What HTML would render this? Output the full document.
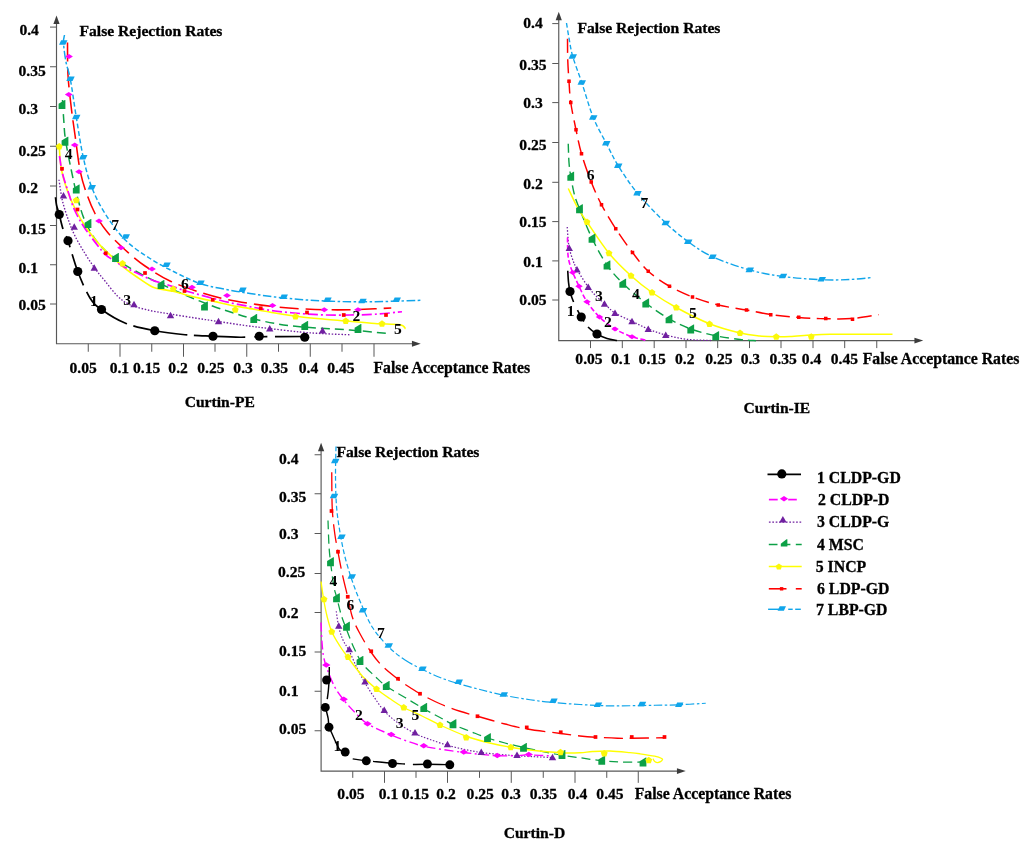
<!DOCTYPE html>
<html lang="en">
<head>
<meta charset="utf-8">
<title>ROC curves</title>
<style>
html,body{margin:0;padding:0;background:#fff}
svg{display:block}
</style>
</head>
<body>
<svg width="1024" height="852" viewBox="0 0 1024 852" font-family="'Liberation Serif', 'Times New Roman', serif" font-weight="bold" font-size="15.6" fill="#000">
<style>text{stroke:#000;stroke-width:0.3px;paint-order:stroke}.n text{stroke:none}</style>
<rect width="1024" height="852" fill="#fff"/>
<g id="chart-pe">
<path d="M56.5 344.3V21.5M55.95 343.75H414.75" stroke="#585858" stroke-width="1.15" fill="none"/>
<polygon points="56.5,15.5 53.4,24.1 59.6,24.1" fill="#3c3c3c"/>
<polygon points="420.75,343.75 411.95,340.85 411.95,346.65" fill="#3c3c3c"/>
<path d="M50 27.1H56.5M50 66.75H56.5M50 106.5H56.5M50 146.25H56.5M50 186H56.5M50 225.5H56.5M50 264.75H56.5M50 304H56.5M88.25 343.75V351.75M120 343.75V356.75M151.75 343.75V351.75M183.5 343.75V356.75M215 343.75V351.75M246.75 343.75V356.75M278.5 343.75V351.75M310.25 343.75V356.75M342 343.75V351.75M374 343.75V356.75" stroke="#585858" stroke-width="1" fill="none"/>
<text x="19.4" y="35">0.4</text>
<text x="18.5" y="76.25">0.35</text>
<text x="18.5" y="114.25">0.3</text>
<text x="18.5" y="155.6">0.25</text>
<text x="18.5" y="193.25">0.2</text>
<text x="18.5" y="234">0.15</text>
<text x="18.5" y="272.75">0.1</text>
<text x="18.5" y="310.25">0.05</text>
<text x="83.1" y="373" text-anchor="middle">0.05</text>
<text x="119.4" y="373" text-anchor="middle">0.1</text>
<text x="146.6" y="373" text-anchor="middle">0.15</text>
<text x="178.1" y="373" text-anchor="middle">0.2</text>
<text x="210.9" y="373" text-anchor="middle">0.25</text>
<text x="243.1" y="373" text-anchor="middle">0.3</text>
<text x="274.4" y="373" text-anchor="middle">0.35</text>
<text x="308.5" y="373" text-anchor="middle">0.4</text>
<text x="340.9" y="373" text-anchor="middle">0.45</text>
<text x="373.5" y="372.5" font-size="15.75">False Acceptance Rates</text>
<text x="79.5" y="36.4">False Rejection Rates</text>
<text x="219.75" y="406.75" text-anchor="middle">Curtin-PE</text>
<path d="M59 179.75C59.58 183.29 60.88 194.12 62.5 201C64.12 207.88 66.67 215.17 68.75 221C70.83 226.83 72.29 230.58 75 236C77.71 241.42 81.67 248.08 85 253.5C88.33 258.92 91.67 263.92 95 268.5C98.33 273.08 101.25 276.42 105 281C108.75 285.58 113.33 292.04 117.5 296C121.67 299.96 124.58 302.33 130 304.75C135.42 307.17 143.33 308.96 150 310.5C156.67 312.04 162.5 312.75 170 314C177.5 315.25 186.96 316.75 195 318C203.04 319.25 209.92 320.25 218.25 321.5C226.58 322.75 236.46 324.33 245 325.5C253.54 326.67 260.33 327.42 269.5 328.5C278.67 329.58 290.75 331.12 300 332C309.25 332.88 316.67 333.29 325 333.75C333.33 334.21 345.83 334.58 350 334.75" fill="none" stroke="#7020A0" stroke-width="1.35" stroke-dasharray="1.5 1.7"/>
<path d="M62.5 100C62.71 103.33 63.25 113.33 63.75 120C64.25 126.67 64.25 131.67 65.5 140C66.75 148.33 69.25 160.42 71.25 170C73.25 179.58 75.21 189 77.5 197.5C79.79 206 81.67 213.54 85 221C88.33 228.46 92.5 236 97.5 242.25C102.5 248.5 107.92 253.29 115 258.5C122.08 263.71 132.08 269.12 140 273.5C147.92 277.88 154.58 281 162.5 284.75C170.42 288.5 179.17 292.46 187.5 296C195.83 299.54 205.08 303.25 212.5 306C219.92 308.75 225.75 310.5 232 312.5C238.25 314.5 242.83 316.17 250 318C257.17 319.83 266.67 322.04 275 323.5C283.33 324.96 291.67 325.92 300 326.75C308.33 327.58 316.67 327.96 325 328.5C333.33 329.04 341.67 329.38 350 330C358.33 330.62 368.33 331.67 375 332.25C381.67 332.83 387.5 333.29 390 333.5" fill="none" stroke="#0CA046" stroke-width="1.5" stroke-dasharray="9 5"/>
<path d="M59.25 146.5C59.58 150.17 59.88 161.08 61.25 168.5C62.62 175.92 65.21 184.33 67.5 191C69.79 197.67 72.08 202.67 75 208.5C77.92 214.33 81.25 220.38 85 226C88.75 231.62 94.07 238.13 97.5 242.25C100.93 246.37 101.64 246.86 105.6 250.7C109.56 254.54 116.03 260.92 121.25 265.3C126.47 269.68 131.69 273.38 136.9 277C142.11 280.62 148.08 284.9 152.5 287C156.92 289.1 160.02 288.88 163.4 289.6C166.78 290.32 169.41 290.53 172.8 291.3C176.19 292.07 179.32 293.07 183.75 294.2C188.18 295.33 194.19 296.87 199.4 298.1C204.61 299.33 209.8 300.42 215 301.6C220.2 302.78 225.39 304.15 230.6 305.2C235.81 306.25 238.85 306.6 246.25 307.9C253.65 309.2 266.04 311.52 275 313C283.96 314.48 291.67 315.71 300 316.75C308.33 317.79 317.38 318.54 325 319.25C332.62 319.96 337.42 320.29 345.75 321C354.08 321.71 365.96 322.88 375 323.5C384.04 324.12 394.92 323.88 400 324.75C405.08 325.62 404.58 328.08 405.5 328.75" fill="none" stroke="#FFFF00" stroke-width="1.6"/>
<path d="M59.5 156C60 158.92 60.96 167.25 62.5 173.5C64.04 179.75 66.67 187.25 68.75 193.5C70.83 199.75 72.29 205.17 75 211C77.71 216.83 80.83 222.25 85 228.5C89.17 234.75 96.57 244.12 100 248.5C103.43 252.88 102.06 252 105.6 254.8C109.14 257.6 116.03 262.25 121.25 265.3C126.47 268.35 131.69 270.62 136.9 273.1C142.11 275.58 147.3 278.22 152.5 280.2C157.7 282.18 162.89 283.32 168.1 285C173.31 286.68 178.53 288.68 183.75 290.3C188.97 291.92 194.19 293.27 199.4 294.7C204.61 296.13 209.8 297.55 215 298.9C220.2 300.25 225.39 301.63 230.6 302.8C235.81 303.97 241.35 304.93 246.25 305.9C251.15 306.87 255.21 307.75 260 308.6C264.79 309.45 268.33 310.18 275 311C281.67 311.82 291.67 312.83 300 313.5C308.33 314.17 316.67 314.75 325 315C333.33 315.25 341.67 315.12 350 315C358.33 314.88 366.33 314.79 375 314.25C383.67 313.71 397.5 312.17 402 311.75" fill="none" stroke="#FF00FF" stroke-width="1.7" stroke-dasharray="10 3 2 3"/>
<path d="M67.5 42.5C67.58 47.92 67.38 64.17 68 75C68.62 85.83 70.08 97.5 71.25 107.5C72.42 117.5 73.54 124.58 75 135C76.46 145.42 78.12 160.42 80 170C81.88 179.58 83.75 185.25 86.25 192.5C88.75 199.75 91.46 206.88 95 213.5C98.54 220.12 102.5 226.21 107.5 232.25C112.5 238.29 118.75 244.12 125 249.75C131.25 255.38 137.5 260.79 145 266C152.5 271.21 160.83 276.62 170 281C179.17 285.38 190.83 289.25 200 292.25C209.17 295.25 216.67 297.12 225 299C233.33 300.88 241.67 302.21 250 303.5C258.33 304.79 266.67 305.88 275 306.75C283.33 307.62 291.67 308.25 300 308.75C308.33 309.25 316.67 309.58 325 309.75C333.33 309.92 341.67 309.92 350 309.75C358.33 309.58 368.12 309.04 375 308.75C381.88 308.46 388.54 308.12 391.25 308" fill="none" stroke="#FF0000" stroke-width="1.55" stroke-dasharray="19 7"/>
<path d="M64.5 35C64.33 36.33 63.25 38.5 63.5 43C63.75 47.5 64.83 55.83 66 62C67.17 68.17 68.79 70.83 70.5 80C72.21 89.17 74.12 104.12 76.25 117C78.38 129.88 80.67 145.54 83.25 157.25C85.83 168.96 88.12 177.88 91.75 187.25C95.38 196.62 99.46 204.75 105 213.5C110.54 222.25 117.5 232.25 125 239.75C132.5 247.25 141.67 253.08 150 258.5C158.33 263.92 166.67 268.08 175 272.25C183.33 276.42 191.67 280.67 200 283.5C208.33 286.33 216.67 287.58 225 289.25C233.33 290.92 241.67 292.21 250 293.5C258.33 294.79 266.67 296 275 297C283.33 298 291.67 298.83 300 299.5C308.33 300.17 316.67 300.62 325 301C333.33 301.38 341.67 301.62 350 301.75C358.33 301.88 366.67 301.88 375 301.75C383.33 301.62 392.17 301.25 400 301C407.83 300.75 418.33 300.38 422 300.25" fill="none" stroke="#10A5EA" stroke-width="1.45" stroke-dasharray="8.5 2.5 2.5 2.5 8.5 2.5 2.5 2.5 8.5 2.5 2.5 0.34 0 628.67"/>
<path d="M64.5 35C64.33 36.33 63.25 38.5 63.5 43C63.75 47.5 64.83 55.83 66 62C67.17 68.17 68.79 70.83 70.5 80C72.21 89.17 74.12 104.12 76.25 117C78.38 129.88 80.67 145.54 83.25 157.25C85.83 168.96 88.12 177.88 91.75 187.25C95.38 196.62 99.46 204.75 105 213.5C110.54 222.25 117.5 232.25 125 239.75C132.5 247.25 141.67 253.08 150 258.5C158.33 263.92 166.67 268.08 175 272.25C183.33 276.42 191.67 280.67 200 283.5C208.33 286.33 216.67 287.58 225 289.25C233.33 290.92 241.67 292.21 250 293.5C258.33 294.79 266.67 296 275 297C283.33 298 291.67 298.83 300 299.5C308.33 300.17 316.67 300.62 325 301C333.33 301.38 341.67 301.62 350 301.75C358.33 301.88 366.67 301.88 375 301.75C383.33 301.62 392.17 301.25 400 301C407.83 300.75 418.33 300.38 422 300.25" fill="none" stroke="#10A5EA" stroke-width="1.45" stroke-dasharray="0 45.84 4.8 2.6 4.8 2.6 4.8 2.6 4.8 2.6 4.8 2.6 4.8 2.6 4.8 2.6 4.8 2.6 4.8 2.6 4.8 2.6 4.8 2.6 4.8 2.6 4.8 2.6 4.8 2.6 4.8 2.6 4.8 2.6 4.8 2.6 4.8 2.6 4.8 2.6 4.8 2.6 4.8 2.6 4.8 2.6 4.8 2.6 4.8 2.6 4.8 2.6 4.8 2.6 4.8 2.6 4.8 2.6 4.8 2.6 4.8 2.6 4.8 2.6 4.8 2.6 4.8 2.6 4.8 2.6 4.8 2.6 0.33 628.67"/>
<path d="M64.5 35C64.33 36.33 63.25 38.5 63.5 43C63.75 47.5 64.83 55.83 66 62C67.17 68.17 68.79 70.83 70.5 80C72.21 89.17 74.12 104.12 76.25 117C78.38 129.88 80.67 145.54 83.25 157.25C85.83 168.96 88.12 177.88 91.75 187.25C95.38 196.62 99.46 204.75 105 213.5C110.54 222.25 117.5 232.25 125 239.75C132.5 247.25 141.67 253.08 150 258.5C158.33 263.92 166.67 268.08 175 272.25C183.33 276.42 191.67 280.67 200 283.5C208.33 286.33 216.67 287.58 225 289.25C233.33 290.92 241.67 292.21 250 293.5C258.33 294.79 266.67 296 275 297C283.33 298 291.67 298.83 300 299.5C308.33 300.17 316.67 300.62 325 301C333.33 301.38 341.67 301.62 350 301.75C358.33 301.88 366.67 301.88 375 301.75C383.33 301.62 392.17 301.25 400 301C407.83 300.75 418.33 300.38 422 300.25" fill="none" stroke="#10A5EA" stroke-width="1.45" stroke-dasharray="0 305.17 8.5 2.5 2.5 2.5 8.5 2.5 2.5 2.5 8.5 2.5 2.5 2.5 8.5 2.5 2.5 2.5 8.5 2.5 2.5 2.5 8.5 2.5 2.5 2.5 8.5 2.5 2.5 2.5 8.5 2.5 2.5 2.5 8.5 2.5 2.5 2.5 8.5 2.5 2.5 2.5 8.5 2.5 2.5 2.5 8.5 2.5 2.5 2.5 8.5 2.5 2.5 2.5 8.5 2.5 2.5 1.99 0 628.67"/>
<path d="M55.5 197.25C55.67 198.54 55.88 202.12 56.5 205C57.12 207.88 58.17 210.5 59.25 214.5C60.33 218.5 61.54 224.62 63 229C64.46 233.38 65.54 233.67 68 240.75C70.46 247.83 74.08 261.96 77.75 271.5C81.42 281.04 86.04 291.67 90 298C93.96 304.33 95.67 305.33 101.5 309.5C107.33 313.67 116.12 319.46 125 323C133.88 326.54 144.75 328.79 154.75 330.75C164.75 332.71 175.29 333.83 185 334.75C194.71 335.67 203.83 335.83 213 336.25C222.17 336.67 232.29 337.17 240 337.25C247.71 337.33 248.46 336.88 259.25 336.75C270.04 336.62 297.17 336.54 304.75 336.5" fill="none" stroke="#000000" stroke-width="1.7" stroke-dasharray="32.69 7.93 11.63 7.47 32.92 7.37 52.74 6.75 54.57 6.44 51.58 9.29 12.98 7.65 79.7 1"/>
<polygon points="63.5,191.9 67.2,198.4 59.8,198.4" fill="#7020A0"/>
<polygon points="74.25,223.15 77.95,229.65 70.55,229.65" fill="#7020A0"/>
<polygon points="94.25,264.15 97.95,270.65 90.55,270.65" fill="#7020A0"/>
<polygon points="134,300.65 137.7,307.15 130.3,307.15" fill="#7020A0"/>
<polygon points="170.5,311.65 174.2,318.15 166.8,318.15" fill="#7020A0"/>
<polygon points="218.5,317.65 222.2,324.15 214.8,324.15" fill="#7020A0"/>
<polygon points="269.75,324.9 273.45,331.4 266.05,331.4" fill="#7020A0"/>
<polygon points="322.5,326.9 326.2,333.4 318.8,333.4" fill="#7020A0"/>
<polygon points="58.6,103.8 64.8,100.1 65.4,100.1 65.4,108.9 58.6,108.9" fill="#0CA046"/>
<polygon points="61.6,140.55 67.8,136.85 68.4,136.85 68.4,145.65 61.6,145.65" fill="#0CA046"/>
<polygon points="72.85,188.3 79.05,184.6 79.65,184.6 79.65,193.4 72.85,193.4" fill="#0CA046"/>
<polygon points="84.6,222.8 90.8,219.1 91.4,219.1 91.4,227.9 84.6,227.9" fill="#0CA046"/>
<polygon points="112.1,256.8 118.3,253.1 118.9,253.1 118.9,261.9 112.1,261.9" fill="#0CA046"/>
<polygon points="157.6,283.8 163.8,280.1 164.4,280.1 164.4,288.9 157.6,288.9" fill="#0CA046"/>
<polygon points="201.1,305.3 207.3,301.6 207.9,301.6 207.9,310.4 201.1,310.4" fill="#0CA046"/>
<polygon points="250.35,317.8 256.55,314.1 257.15,314.1 257.15,322.9 250.35,322.9" fill="#0CA046"/>
<polygon points="301.35,324.8 307.55,321.1 308.15,321.1 308.15,329.9 301.35,329.9" fill="#0CA046"/>
<polygon points="354.6,327.8 360.8,324.1 361.4,324.1 361.4,332.9 354.6,332.9" fill="#0CA046"/>
<polygon points="59.25,142.9 62.67,145.39 61.37,149.41 57.13,149.41 55.83,145.39" fill="#FBF80A"/>
<polygon points="76.25,196.65 79.67,199.14 78.37,203.16 74.13,203.16 72.83,199.14" fill="#FBF80A"/>
<polygon points="122.5,259.9 125.92,262.39 124.62,266.41 120.38,266.41 119.08,262.39" fill="#FBF80A"/>
<polygon points="173.25,285.4 176.67,287.89 175.37,291.91 171.13,291.91 169.83,287.89" fill="#FBF80A"/>
<polygon points="235.25,306.15 238.67,308.64 237.37,312.66 233.13,312.66 231.83,308.64" fill="#FBF80A"/>
<polygon points="295.5,312.9 298.92,315.39 297.62,319.41 293.38,319.41 292.08,315.39" fill="#FBF80A"/>
<polygon points="345.75,317.4 349.17,319.89 347.87,323.91 343.63,323.91 342.33,319.89" fill="#FBF80A"/>
<polygon points="382,320.15 385.42,322.64 384.12,326.66 379.88,326.66 378.58,322.64" fill="#FBF80A"/>
<rect x="60.15" y="166.9" width="3.7" height="3.7" fill="#FF0000"/>
<rect x="75.65" y="207.65" width="3.7" height="3.7" fill="#FF0000"/>
<rect x="103.9" y="251.4" width="3.7" height="3.7" fill="#FF0000"/>
<rect x="143.15" y="271.15" width="3.7" height="3.7" fill="#FF0000"/>
<rect x="182.65" y="289.15" width="3.7" height="3.7" fill="#FF0000"/>
<rect x="210.9" y="297.9" width="3.7" height="3.7" fill="#FF0000"/>
<rect x="258.9" y="306.4" width="3.7" height="3.7" fill="#FF0000"/>
<rect x="305.15" y="310.65" width="3.7" height="3.7" fill="#FF0000"/>
<rect x="341.9" y="313.15" width="3.7" height="3.7" fill="#FF0000"/>
<rect x="384.15" y="313.15" width="3.7" height="3.7" fill="#FF0000"/>
<polygon points="65.1,56.5 69,53.9 72.9,56.5 69,59.1" fill="#FF00FF"/>
<polygon points="64.85,94.5 68.75,91.9 72.65,94.5 68.75,97.1" fill="#FF00FF"/>
<polygon points="70.85,145 74.75,142.4 78.65,145 74.75,147.6" fill="#FF00FF"/>
<polygon points="75.1,171.75 79,169.15 82.9,171.75 79,174.35" fill="#FF00FF"/>
<polygon points="95.1,221 99,218.4 102.9,221 99,223.6" fill="#FF00FF"/>
<polygon points="117.1,247.75 121,245.15 124.9,247.75 121,250.35" fill="#FF00FF"/>
<polygon points="148.1,269 152,266.4 155.9,269 152,271.6" fill="#FF00FF"/>
<polygon points="188.1,287.25 192,284.65 195.9,287.25 192,289.85" fill="#FF00FF"/>
<polygon points="223.1,295.5 227,292.9 230.9,295.5 227,298.1" fill="#FF00FF"/>
<polygon points="268.6,305.5 272.5,302.9 276.4,305.5 272.5,308.1" fill="#FF00FF"/>
<polygon points="320.35,309.75 324.25,307.15 328.15,309.75 324.25,312.35" fill="#FF00FF"/>
<polygon points="354.1,309.75 358,307.15 361.9,309.75 358,312.35" fill="#FF00FF"/>
<polygon points="59.05,44.8 61.15,40.2 67.45,40.2 65.35,44.8" fill="#10A5EA"/>
<polygon points="66.3,81.05 68.4,76.45 74.7,76.45 72.6,81.05" fill="#10A5EA"/>
<polygon points="72.05,119.3 74.15,114.7 80.45,114.7 78.35,119.3" fill="#10A5EA"/>
<polygon points="79.05,159.55 81.15,154.95 87.45,154.95 85.35,159.55" fill="#10A5EA"/>
<polygon points="87.55,189.55 89.65,184.95 95.95,184.95 93.85,189.55" fill="#10A5EA"/>
<polygon points="121.55,238.8 123.65,234.2 129.95,234.2 127.85,238.8" fill="#10A5EA"/>
<polygon points="162.3,267.05 164.4,262.45 170.7,262.45 168.6,267.05" fill="#10A5EA"/>
<polygon points="196.3,285.05 198.4,280.45 204.7,280.45 202.6,285.05" fill="#10A5EA"/>
<polygon points="238.3,292.05 240.4,287.45 246.7,287.45 244.6,292.05" fill="#10A5EA"/>
<polygon points="279.55,299.05 281.65,294.45 287.95,294.45 285.85,299.05" fill="#10A5EA"/>
<polygon points="323.3,302.05 325.4,297.45 331.7,297.45 329.6,302.05" fill="#10A5EA"/>
<polygon points="358.3,303.3 360.4,298.7 366.7,298.7 364.6,303.3" fill="#10A5EA"/>
<polygon points="392.55,302.05 394.65,297.45 400.95,297.45 398.85,302.05" fill="#10A5EA"/>
<circle cx="59.25" cy="214.5" r="4.6" fill="#000000"/>
<circle cx="68" cy="240.75" r="4.6" fill="#000000"/>
<circle cx="77.75" cy="271.5" r="4.6" fill="#000000"/>
<circle cx="101.5" cy="309.5" r="4.6" fill="#000000"/>
<circle cx="154.75" cy="330.75" r="4.6" fill="#000000"/>
<circle cx="213" cy="336.25" r="4.6" fill="#000000"/>
<circle cx="259.25" cy="336.25" r="4.6" fill="#000000"/>
<circle cx="304.75" cy="337.25" r="4.6" fill="#000000"/>
<g class="n"><text x="68.75" y="159.25" text-anchor="middle">4</text></g>
<g class="n"><text x="115.25" y="230" text-anchor="middle">7</text></g>
<g class="n"><text x="185" y="289.25" text-anchor="middle">6</text></g>
<g class="n"><text x="93.9" y="306" text-anchor="middle">1</text></g>
<g class="n"><text x="127.1" y="305" text-anchor="middle">3</text></g>
<g class="n"><text x="356.5" y="320.5" text-anchor="middle">2</text></g>
<g class="n"><text x="397.9" y="333.5" text-anchor="middle">5</text></g>
</g>
<g id="chart-ie">
<path d="M558.75 341.15V17.75M558.2 340.6H917.25" stroke="#585858" stroke-width="1.15" fill="none"/>
<polygon points="558.75,11.75 555.65,20.35 561.85,20.35" fill="#3c3c3c"/>
<polygon points="923.25,340.6 914.45,337.7 914.45,343.5" fill="#3c3c3c"/>
<path d="M552.25 23.6H558.75M552.25 63.5H558.75M552.25 102.6H558.75M552.25 142.5H558.75M552.25 182.3H558.75M552.25 221.6H558.75M552.25 260.9H558.75M552.25 300H558.75M590.5 340.6V348.1M622.3 340.6V348.1M654.2 340.6V348.1M686 340.6V348.1M717.7 340.6V348.1M749.5 340.6V348.1M781 340.6V348.1M813 340.6V348.1M844.7 340.6V348.1M876.75 340.6V348.1" stroke="#585858" stroke-width="1" fill="none"/>
<text x="533" y="27.5" text-anchor="middle">0.4</text>
<text x="533" y="70.25" text-anchor="middle">0.35</text>
<text x="533" y="107.75" text-anchor="middle">0.3</text>
<text x="533" y="150.25" text-anchor="middle">0.25</text>
<text x="533" y="189" text-anchor="middle">0.2</text>
<text x="533" y="226.75" text-anchor="middle">0.15</text>
<text x="533" y="267" text-anchor="middle">0.1</text>
<text x="533" y="305" text-anchor="middle">0.05</text>
<text x="589" y="363.75" text-anchor="middle">0.05</text>
<text x="620.75" y="363.75" text-anchor="middle">0.1</text>
<text x="652.25" y="363.75" text-anchor="middle">0.15</text>
<text x="684.75" y="363.75" text-anchor="middle">0.2</text>
<text x="718.9" y="363.75" text-anchor="middle">0.25</text>
<text x="750.4" y="363.75" text-anchor="middle">0.3</text>
<text x="783.1" y="363.75" text-anchor="middle">0.35</text>
<text x="811.6" y="363.75" text-anchor="middle">0.4</text>
<text x="844.4" y="363.75" text-anchor="middle">0.45</text>
<text x="862.75" y="363.75" font-size="15.75">False Acceptance Rates</text>
<text x="577.5" y="32.5">False Rejection Rates</text>
<text x="776.9" y="413" text-anchor="middle">Curtin-IE</text>
<path d="M567.25 227C567.38 228.83 567.67 234.5 568 238C568.33 241.5 568.5 244.5 569.25 248C570 251.5 571.21 255.42 572.5 259C573.79 262.58 574.38 264.83 577 269.5C579.62 274.17 585.08 282.58 588.25 287C591.42 291.42 593.29 293.21 596 296C598.71 298.79 601.33 300.92 604.5 303.75C607.67 306.58 610.42 310.08 615 313C619.58 315.92 626.46 318.58 632 321.25C637.54 323.92 642.62 326.71 648.25 329C653.88 331.29 659.29 333.28 665.75 335C672.21 336.72 679.46 338.38 687 339.3C694.54 340.22 707 340.3 711 340.5" fill="none" stroke="#7020A0" stroke-width="1.27" stroke-dasharray="1.5 1.7"/>
<path d="M568.25 143.75C568.38 146.88 568.58 157.08 569 162.5C569.42 167.92 569.83 170.83 570.75 176.25C571.67 181.67 573.04 189.58 574.5 195C575.96 200.42 576.58 201.54 579.5 208.75C582.42 215.96 587.42 228.88 592 238.25C596.58 247.62 601.88 257.5 607 265C612.12 272.5 616.29 276.92 622.75 283.25C629.21 289.58 638.04 297.08 645.75 303C653.46 308.92 661.5 314.42 669 318.75C676.5 323.08 682.96 326.17 690.75 329C698.54 331.83 707.54 334 715.75 335.75C723.96 337.5 733.29 338.67 740 339.5C746.71 340.33 753.33 340.54 756 340.75" fill="none" stroke="#0CA046" stroke-width="1.41" stroke-dasharray="9 5"/>
<path d="M568.25 188.5C569.79 191.67 574.38 201.92 577.5 207.5C580.62 213.08 581.75 214.38 587 222C592.25 229.62 601.67 244.29 609 253.25C616.33 262.21 623.83 269.21 631 275.75C638.17 282.29 644.46 287.21 652 292.5C659.54 297.79 666.67 302.29 676.25 307.5C685.83 312.71 698.88 319.5 709.5 323.75C720.12 328 731.58 330.96 740 333C748.42 335.04 753.96 335.38 760 336C766.04 336.62 771.25 336.67 776.25 336.75C781.25 336.83 784.17 336.79 790 336.5C795.83 336.21 804.58 335.38 811.25 335C817.92 334.62 821.88 334.38 830 334.25C838.12 334.12 849.58 334.25 860 334.25C870.42 334.25 887.08 334.25 892.5 334.25" fill="none" stroke="#FFFF00" stroke-width="1.5"/>
<path d="M567.5 237.5C567.58 240.42 567.58 250.42 568 255C568.42 259.58 569.21 262.08 570 265C570.79 267.92 571.25 268.96 572.75 272.5C574.25 276.04 576.62 281.38 579 286.25C581.38 291.12 583.58 296.62 587 301.75C590.42 306.88 594.83 312.46 599.5 317C604.17 321.54 609.58 325.71 615 329C620.42 332.29 626.67 334.83 632 336.75C637.33 338.67 644.5 339.88 647 340.5" fill="none" stroke="#FF00FF" stroke-width="1.6" stroke-dasharray="5 2.5"/>
<path d="M567.5 38.75C567.54 42.29 567.5 52.92 567.75 60C568 67.08 568.5 74.17 569 81.25C569.5 88.33 569.58 94.42 570.75 102.5C571.92 110.58 574.21 121.21 576 129.75C577.79 138.29 578.96 145.04 581.5 153.75C584.04 162.46 587.92 173.5 591.25 182C594.58 190.5 597.42 196.96 601.5 204.75C605.58 212.54 610.58 220.79 615.75 228.75C620.92 236.71 627.08 245.42 632.5 252.5C637.92 259.58 642.08 265.62 648.25 271.25C654.42 276.88 662.12 281.96 669.5 286.25C676.88 290.54 684.38 293.88 692.5 297C700.62 300.12 709.25 302.83 718.25 305C727.25 307.17 737.75 308.42 746.5 310C755.25 311.58 762.04 313.25 770.75 314.5C779.46 315.75 789.58 316.79 798.75 317.5C807.92 318.21 816.79 318.58 825.75 318.75C834.71 318.92 843.71 319.19 852.5 318.5C861.29 317.81 874.17 315.25 878.5 314.6" fill="none" stroke="#FF0000" stroke-width="1.46" stroke-dasharray="14 6.5"/>
<path d="M566.5 23C566.92 25.5 567.96 32.42 569 38C570.04 43.58 570.62 49.08 572.75 56.5C574.88 63.92 578.33 72.33 581.75 82.5C585.17 92.67 589.17 107.38 593.25 117.5C597.33 127.62 602.08 135.21 606.25 143.25C610.42 151.29 613.04 157.42 618.25 165.75C623.46 174.08 629.58 183.71 637.5 193.25C645.42 202.79 657.29 214.92 665.75 223C674.21 231.08 680.46 236.12 688.25 241.75C696.04 247.38 702.25 252.04 712.5 256.75C722.75 261.46 738 266.71 749.75 270C761.5 273.29 771 274.88 783 276.5C795 278.12 810.58 279.25 821.75 279.75C832.92 280.25 841.54 279.88 850 279.5C858.46 279.12 868.75 277.83 872.5 277.5" fill="none" stroke="#10A5EA" stroke-width="1.36" stroke-dasharray="4.8 2.6 4.8 2.6 4.8 2.6 4.8 2.6 4.8 2.6 4.8 2.6 4.8 2.6 4.8 2.6 4.8 2.6 4.8 2.6 4.8 2.6 4.8 2.6 4.8 2.6 4.8 2.6 4.8 2.6 4.8 2.6 4.8 2.6 4.8 2.6 4.8 2.6 4.8 2.6 4.8 2.6 4.8 2.6 4.8 2.6 4.8 2.6 4.8 2.6 4.8 2.6 4.8 2.6 4.8 2.6 4.8 2.6 4.8 2.6 4.8 2.6 4.8 2.6 4.8 2.6 4.8 2.6 4.8 0.39 0 548.6"/>
<path d="M566.5 23C566.92 25.5 567.96 32.42 569 38C570.04 43.58 570.62 49.08 572.75 56.5C574.88 63.92 578.33 72.33 581.75 82.5C585.17 92.67 589.17 107.38 593.25 117.5C597.33 127.62 602.08 135.21 606.25 143.25C610.42 151.29 613.04 157.42 618.25 165.75C623.46 174.08 629.58 183.71 637.5 193.25C645.42 202.79 657.29 214.92 665.75 223C674.21 231.08 680.46 236.12 688.25 241.75C696.04 247.38 702.25 252.04 712.5 256.75C722.75 261.46 738 266.71 749.75 270C761.5 273.29 771 274.88 783 276.5C795 278.12 810.58 279.25 821.75 279.75C832.92 280.25 841.54 279.88 850 279.5C858.46 279.12 868.75 277.83 872.5 277.5" fill="none" stroke="#10A5EA" stroke-width="1.36" stroke-dasharray="0 256.79 8.5 2.5 2.5 2.5 8.5 2.5 2.5 2.5 8.5 2.5 2.5 2.5 8.5 2.5 2.5 2.5 8.5 2.5 2.5 2.5 8.5 2.5 2.5 2.5 8.5 2.5 2.5 2.5 8.5 2.5 2.5 2.5 8.5 2.5 2.5 2.5 8.5 2.5 2.5 2.5 8.5 2.5 2.5 2.5 8.5 2.5 2.5 2.3 0 548.6"/>
<path d="M567.75 270.75C567.88 272.62 568.12 278.54 568.5 282C568.88 285.46 569.08 288 570 291.5C570.92 295 572.12 298.75 574 303C575.88 307.25 578.92 313 581.25 317C583.58 321 585.38 324.17 588 327C590.62 329.83 593.83 332.08 597 334C600.17 335.92 603.67 337.42 607 338.5C610.33 339.58 615.33 340.17 617 340.5" fill="none" stroke="#000000" stroke-width="1.6" stroke-dasharray="32.06 8.92 13.03 6.94 82.64 1"/>
<polygon points="569.25,244.4 572.95,250.9 565.55,250.9" fill="#7020A0"/>
<polygon points="577,265.9 580.7,272.4 573.3,272.4" fill="#7020A0"/>
<polygon points="588.25,283.4 591.95,289.9 584.55,289.9" fill="#7020A0"/>
<polygon points="604.5,300.15 608.2,306.65 600.8,306.65" fill="#7020A0"/>
<polygon points="615,309.4 618.7,315.9 611.3,315.9" fill="#7020A0"/>
<polygon points="632,317.65 635.7,324.15 628.3,324.15" fill="#7020A0"/>
<polygon points="648.25,325.4 651.95,331.9 644.55,331.9" fill="#7020A0"/>
<polygon points="665.75,331.4 669.45,337.9 662.05,337.9" fill="#7020A0"/>
<polygon points="567.35,175.55 573.55,171.85 574.15,171.85 574.15,180.65 567.35,180.65" fill="#0CA046"/>
<polygon points="576.1,208.05 582.3,204.35 582.9,204.35 582.9,213.15 576.1,213.15" fill="#0CA046"/>
<polygon points="588.6,237.55 594.8,233.85 595.4,233.85 595.4,242.65 588.6,242.65" fill="#0CA046"/>
<polygon points="603.6,264.3 609.8,260.6 610.4,260.6 610.4,269.4 603.6,269.4" fill="#0CA046"/>
<polygon points="619.35,282.55 625.55,278.85 626.15,278.85 626.15,287.65 619.35,287.65" fill="#0CA046"/>
<polygon points="642.35,302.3 648.55,298.6 649.15,298.6 649.15,307.4 642.35,307.4" fill="#0CA046"/>
<polygon points="665.6,318.05 671.8,314.35 672.4,314.35 672.4,323.15 665.6,323.15" fill="#0CA046"/>
<polygon points="687.35,328.3 693.55,324.6 694.15,324.6 694.15,333.4 687.35,333.4" fill="#0CA046"/>
<polygon points="712.35,335.05 718.55,331.35 719.15,331.35 719.15,340.15 712.35,340.15" fill="#0CA046"/>
<polygon points="587,218.4 590.42,220.89 589.12,224.91 584.88,224.91 583.58,220.89" fill="#FBF80A"/>
<polygon points="609,249.65 612.42,252.14 611.12,256.16 606.88,256.16 605.58,252.14" fill="#FBF80A"/>
<polygon points="631,272.15 634.42,274.64 633.12,278.66 628.88,278.66 627.58,274.64" fill="#FBF80A"/>
<polygon points="652,288.9 655.42,291.39 654.12,295.41 649.88,295.41 648.58,291.39" fill="#FBF80A"/>
<polygon points="676.25,303.9 679.67,306.39 678.37,310.41 674.13,310.41 672.83,306.39" fill="#FBF80A"/>
<polygon points="709.5,320.4 712.92,322.89 711.62,326.91 707.38,326.91 706.08,322.89" fill="#FBF80A"/>
<polygon points="740,329.4 743.42,331.89 742.12,335.91 737.88,335.91 736.58,331.89" fill="#FBF80A"/>
<polygon points="776.25,333.15 779.67,335.64 778.37,339.66 774.13,339.66 772.83,335.64" fill="#FBF80A"/>
<polygon points="811.25,333.15 814.67,335.64 813.37,339.66 809.13,339.66 807.83,335.64" fill="#FBF80A"/>
<rect x="567.24" y="79.49" width="3.52" height="3.52" fill="#FF0000"/>
<rect x="568.99" y="100.74" width="3.52" height="3.52" fill="#FF0000"/>
<rect x="574.24" y="127.99" width="3.52" height="3.52" fill="#FF0000"/>
<rect x="579.74" y="151.99" width="3.52" height="3.52" fill="#FF0000"/>
<rect x="589.49" y="180.24" width="3.52" height="3.52" fill="#FF0000"/>
<rect x="599.74" y="202.99" width="3.52" height="3.52" fill="#FF0000"/>
<rect x="613.99" y="226.99" width="3.52" height="3.52" fill="#FF0000"/>
<rect x="630.74" y="250.74" width="3.52" height="3.52" fill="#FF0000"/>
<rect x="646.49" y="269.49" width="3.52" height="3.52" fill="#FF0000"/>
<rect x="667.74" y="284.49" width="3.52" height="3.52" fill="#FF0000"/>
<rect x="690.74" y="295.24" width="3.52" height="3.52" fill="#FF0000"/>
<rect x="716.49" y="303.24" width="3.52" height="3.52" fill="#FF0000"/>
<rect x="744.74" y="308.24" width="3.52" height="3.52" fill="#FF0000"/>
<rect x="768.99" y="312.99" width="3.52" height="3.52" fill="#FF0000"/>
<rect x="796.99" y="315.49" width="3.52" height="3.52" fill="#FF0000"/>
<rect x="823.99" y="316.74" width="3.52" height="3.52" fill="#FF0000"/>
<rect x="850.74" y="317.49" width="3.52" height="3.52" fill="#FF0000"/>
<polygon points="568.97,272.5 572.75,269.98 576.53,272.5 572.75,275.02" fill="#FF00FF"/>
<polygon points="575.22,286.25 579,283.73 582.78,286.25 579,288.77" fill="#FF00FF"/>
<polygon points="583.22,301.75 587,299.23 590.78,301.75 587,304.27" fill="#FF00FF"/>
<polygon points="595.72,317 599.5,314.48 603.28,317 599.5,319.52" fill="#FF00FF"/>
<polygon points="611.22,329 615,326.48 618.78,329 615,331.52" fill="#FF00FF"/>
<polygon points="628.22,336.75 632,334.23 635.78,336.75 632,339.27" fill="#FF00FF"/>
<polygon points="568.55,58.8 570.65,54.2 576.95,54.2 574.85,58.8" fill="#10A5EA"/>
<polygon points="577.55,84.8 579.65,80.2 585.95,80.2 583.85,84.8" fill="#10A5EA"/>
<polygon points="589.05,119.8 591.15,115.2 597.45,115.2 595.35,119.8" fill="#10A5EA"/>
<polygon points="602.05,145.55 604.15,140.95 610.45,140.95 608.35,145.55" fill="#10A5EA"/>
<polygon points="614.05,168.05 616.15,163.45 622.45,163.45 620.35,168.05" fill="#10A5EA"/>
<polygon points="633.3,195.55 635.4,190.95 641.7,190.95 639.6,195.55" fill="#10A5EA"/>
<polygon points="661.55,225.3 663.65,220.7 669.95,220.7 667.85,225.3" fill="#10A5EA"/>
<polygon points="684.05,244.05 686.15,239.45 692.45,239.45 690.35,244.05" fill="#10A5EA"/>
<polygon points="708.3,259.05 710.4,254.45 716.7,254.45 714.6,259.05" fill="#10A5EA"/>
<polygon points="745.55,272.2 747.65,267.6 753.95,267.6 751.85,272.2" fill="#10A5EA"/>
<polygon points="778.8,278.3 780.9,273.7 787.2,273.7 785.1,278.3" fill="#10A5EA"/>
<polygon points="817.55,281.55 819.65,276.95 825.95,276.95 823.85,281.55" fill="#10A5EA"/>
<circle cx="570" cy="291.5" r="4.6" fill="#000000"/>
<circle cx="581.25" cy="317" r="4.6" fill="#000000"/>
<circle cx="597" cy="334" r="4.6" fill="#000000"/>
<g class="n"><text x="590.75" y="179.5" text-anchor="middle">6</text></g>
<g class="n"><text x="644.4" y="207.75" text-anchor="middle">7</text></g>
<g class="n"><text x="598.9" y="301.25" text-anchor="middle">3</text></g>
<g class="n"><text x="636" y="298.75" text-anchor="middle">4</text></g>
<g class="n"><text x="693" y="318.25" text-anchor="middle">5</text></g>
<g class="n"><text x="570.75" y="315.5" text-anchor="middle">1</text></g>
<g class="n"><text x="608" y="326.5" text-anchor="middle">2</text></g>
</g>
<g id="chart-d">
<path d="M321.1 771.65V448.75M320.55 771.1H679.75" stroke="#585858" stroke-width="1.15" fill="none"/>
<polygon points="321.1,442.75 318,451.35 324.2,451.35" fill="#3c3c3c"/>
<polygon points="685.75,771.1 676.95,768.2 676.95,774" fill="#3c3c3c"/>
<path d="M314.6 454.75H321.1M314.6 493.75H321.1M314.6 533.5H321.1M314.6 573.5H321.1M314.6 612.5H321.1M314.6 652H321.1M314.6 691.25H321.1M314.6 730.75H321.1M352.75 771.1V777.85M384.5 771.1V782.85M416 771.1V777.85M447.5 771.1V782.85M479.5 771.1V777.85M511.25 771.1V782.85M543.25 771.1V777.85M575 771.1V782.85M606.75 771.1V777.85M638.25 771.1V782.85" stroke="#585858" stroke-width="1" fill="none"/>
<text x="279" y="463.5">0.4</text>
<text x="279" y="501.5">0.35</text>
<text x="279" y="539">0.3</text>
<text x="278" y="577.25">0.25</text>
<text x="279" y="617.75">0.2</text>
<text x="279" y="656">0.15</text>
<text x="279" y="696">0.1</text>
<text x="279" y="733.5">0.05</text>
<text x="351" y="799" text-anchor="middle">0.05</text>
<text x="388.5" y="799" text-anchor="middle">0.1</text>
<text x="415.5" y="799" text-anchor="middle">0.15</text>
<text x="446" y="799" text-anchor="middle">0.2</text>
<text x="480.25" y="799" text-anchor="middle">0.25</text>
<text x="511.1" y="799" text-anchor="middle">0.3</text>
<text x="543.5" y="799" text-anchor="middle">0.35</text>
<text x="577.5" y="799" text-anchor="middle">0.4</text>
<text x="610" y="799" text-anchor="middle">0.45</text>
<text x="634.75" y="799" font-size="15.75">False Acceptance Rates</text>
<text x="336.5" y="456.5">False Rejection Rates</text>
<text x="534.4" y="837.75" text-anchor="middle">Curtin-D</text>
<path d="M336.25 611.25C336.67 613.88 337.62 622.21 338.75 627C339.88 631.79 341.25 636 343 640C344.75 644 346.92 646.33 349.25 651C351.58 655.67 354.38 662.67 357 668C359.62 673.33 362.17 678.17 365 683C367.83 687.83 370.79 692.33 374 697C377.21 701.67 380.25 706.67 384.25 711C388.25 715.33 392.88 719.25 398 723C403.12 726.75 409.67 730.75 415 733.5C420.33 736.25 424.58 737.54 430 739.5C435.42 741.46 441.67 743.58 447.5 745.25C453.33 746.92 459.38 748.29 465 749.5C470.62 750.71 475.42 751.67 481.25 752.5C487.08 753.33 494.04 753.96 500 754.5C505.96 755.04 511.17 755.38 517 755.75C522.83 756.12 529.08 756.46 535 756.75C540.92 757.04 549.58 757.38 552.5 757.5" fill="none" stroke="#7020A0" stroke-width="1.15" stroke-dasharray="1.5 1.7"/>
<path d="M328 520.5C328.17 524.75 328.58 539.12 329 546C329.42 552.88 329.71 555.08 330.5 561.75C331.29 568.42 332.71 580.04 333.75 586C334.79 591.96 335.5 592.67 336.75 597.5C338 602.33 339.58 609.58 341.25 615C342.92 620.42 344.67 624.58 346.75 630C348.83 635.42 351.12 641.88 353.75 647.5C356.38 653.12 358.96 658.96 362.5 663.75C366.04 668.54 371.04 672.5 375 676.25C378.96 680 381.25 682.71 386.25 686.25C391.25 689.79 398.75 693.75 405 697.5C411.25 701.25 417.92 705.42 423.75 708.75C429.58 712.08 435.12 714.88 440 717.5C444.88 720.12 448 722.21 453 724.5C458 726.79 464.25 729 470 731.25C475.75 733.5 481.67 736.04 487.5 738C493.33 739.96 498.96 741.42 505 743C511.04 744.58 515.42 745.67 523.75 747.5C532.08 749.33 545.62 752.29 555 754C564.38 755.71 572.21 756.62 580 757.75C587.79 758.88 595.08 760.04 601.75 760.75C608.42 761.46 613.12 761.79 620 762C626.88 762.21 639.17 762 643 762" fill="none" stroke="#0CA046" stroke-width="1.27" stroke-dasharray="9 5"/>
<path d="M321 581.5C321.46 584.58 322.75 594.25 323.75 600C324.75 605.75 325.67 610.71 327 616C328.33 621.29 329.58 626.71 331.75 631.75C333.92 636.79 337.29 641.96 340 646.25C342.71 650.54 344.25 652.5 348 657.5C351.75 662.5 357.75 671 362.5 676.25C367.25 681.5 371.92 685.25 376.5 689C381.08 692.75 385.46 695.67 390 698.75C394.54 701.83 398.33 704.58 403.75 707.5C409.17 710.42 416.46 713.33 422.5 716.25C428.54 719.17 432.71 721.67 440 725C447.29 728.33 458.33 733.33 466.25 736.25C474.17 739.17 480.12 740.67 487.5 742.5C494.88 744.33 503.42 746 510.5 747.25C517.58 748.5 521.67 749.08 530 750C538.33 750.92 552.17 752.29 560.5 752.75C568.83 753.21 574.67 752.96 580 752.75C585.33 752.54 587.5 751.79 592.5 751.5C597.5 751.21 603.75 750.82 610 751C616.25 751.18 625 752.13 630 752.6C635 753.07 635.88 753.2 640 753.8C644.12 754.4 651.08 755.42 654.7 756.2C658.32 756.98 660.45 757.87 661.7 758.5C662.95 759.13 662.4 759.47 662.2 760C662 760.53 661.27 761.27 660.5 761.7C659.73 762.13 658.57 762.63 657.6 762.6C656.63 762.57 655.38 761.98 654.7 761.5C654.02 761.02 653.75 760.18 653.5 759.7C653.25 759.22 653.25 758.78 653.2 758.6" fill="none" stroke="#FFFF00" stroke-width="1.36"/>
<path d="M321 622.5C321.17 625.83 321.54 636.67 322 642.5C322.46 648.33 322.83 652.92 323.75 657.5C324.67 662.08 325.62 665 327.5 670C329.38 675 332.29 682.5 335 687.5C337.71 692.5 340.42 695.83 343.75 700C347.08 704.17 351.04 708.54 355 712.5C358.96 716.46 361.46 720 367.5 723.75C373.54 727.5 384.58 732.08 391.25 735C397.92 737.92 402.08 739.38 407.5 741.25C412.92 743.12 417.92 744.88 423.75 746.25C429.58 747.62 435.83 748.46 442.5 749.5C449.17 750.54 457.5 751.71 463.75 752.5C470 753.29 474.38 753.71 480 754.25C485.62 754.79 491.67 755.5 497.5 755.75C503.33 756 509.79 755.88 515 755.75C520.21 755.62 522.5 754.96 528.75 755C535 755.04 548.54 755.83 552.5 756" fill="none" stroke="#FF00FF" stroke-width="1.44" stroke-dasharray="9 3.5 2 3.5"/>
<path d="M331.75 472.25C331.83 478.29 331.75 498.29 332.25 508.5C332.75 518.71 333.79 526.25 334.75 533.5C335.71 540.75 336.71 545.08 338 552C339.29 558.92 340.88 567.5 342.5 575C344.12 582.5 346.08 589.92 347.75 597C349.42 604.08 350.46 611.38 352.5 617.5C354.54 623.62 356.88 627.92 360 633.75C363.12 639.58 367.5 647.08 371.25 652.5C375 657.92 378.04 661.79 382.5 666.25C386.96 670.71 393.42 675.71 398 679.25C402.58 682.79 406.33 685.08 410 687.5C413.67 689.92 415 691.04 420 693.75C425 696.46 433.33 700.83 440 703.75C446.67 706.67 453.75 709.17 460 711.25C466.25 713.33 470 714.12 477.5 716.25C485 718.38 496.75 721.88 505 724C513.25 726.12 517.71 727.42 527 729C536.29 730.58 551.92 732.33 560.75 733.5C569.58 734.67 574.21 735.38 580 736C585.79 736.62 589.25 736.88 595.5 737.25C601.75 737.62 611.46 738.08 617.5 738.25C623.54 738.42 623.92 738.33 631.75 738.25C639.58 738.17 659.04 737.83 664.5 737.75" fill="none" stroke="#FF0000" stroke-width="1.32" stroke-dasharray="19 7"/>
<path d="M336 446.5C335.92 451.42 335.42 466.08 335.5 476C335.58 485.92 335.79 496.83 336.5 506C337.21 515.17 338.38 522.67 339.75 531C341.12 539.33 342.67 547.67 344.75 556C346.83 564.33 349.54 573.08 352.25 581C354.96 588.92 357.62 595.75 361 603.5C364.38 611.25 367.88 620.25 372.5 627.5C377.12 634.75 383.33 641.58 388.75 647C394.17 652.42 399.38 656.25 405 660C410.62 663.75 416.67 666.58 422.5 669.5C428.33 672.42 433.96 675.12 440 677.5C446.04 679.88 452.08 681.75 458.75 683.75C465.42 685.75 472.5 687.58 480 689.5C487.5 691.42 495.42 693.54 503.75 695.25C512.08 696.96 521.79 698.54 530 699.75C538.21 700.96 544.67 701.71 553 702.5C561.33 703.29 571.33 703.96 580 704.5C588.67 705.04 596.67 705.54 605 705.75C613.33 705.96 621.67 705.83 630 705.75C638.33 705.67 646.67 705.42 655 705.25C663.33 705.08 671.54 705.08 680 704.75C688.46 704.42 701.46 703.5 705.75 703.25" fill="none" stroke="#10A5EA" stroke-width="1.23" stroke-dasharray="4.8 2.6 4.8 2.6 4.8 2.6 4.8 2.6 4.8 2.6 4.8 2.6 4.8 2.6 4.8 2.6 4.8 2.6 4.8 2.6 4.8 2.6 4.8 2.6 4.8 2.6 4.8 2.6 4.8 2.6 4.8 2.6 4.8 2.6 4.8 2.6 4.8 2.6 4.8 2.6 4.8 2.6 4.8 2.6 4.8 2.6 4.8 2.6 4.8 2.6 4.8 2.6 4.8 2.6 4.8 2.6 4.8 2.6 4.8 2.6 4.8 2.6 4.03 641.55"/>
<path d="M336 446.5C335.92 451.42 335.42 466.08 335.5 476C335.58 485.92 335.79 496.83 336.5 506C337.21 515.17 338.38 522.67 339.75 531C341.12 539.33 342.67 547.67 344.75 556C346.83 564.33 349.54 573.08 352.25 581C354.96 588.92 357.62 595.75 361 603.5C364.38 611.25 367.88 620.25 372.5 627.5C377.12 634.75 383.33 641.58 388.75 647C394.17 652.42 399.38 656.25 405 660C410.62 663.75 416.67 666.58 422.5 669.5C428.33 672.42 433.96 675.12 440 677.5C446.04 679.88 452.08 681.75 458.75 683.75C465.42 685.75 472.5 687.58 480 689.5C487.5 691.42 495.42 693.54 503.75 695.25C512.08 696.96 521.79 698.54 530 699.75C538.21 700.96 544.67 701.71 553 702.5C561.33 703.29 571.33 703.96 580 704.5C588.67 705.04 596.67 705.54 605 705.75C613.33 705.96 621.67 705.83 630 705.75C638.33 705.67 646.67 705.42 655 705.25C663.33 705.08 671.54 705.08 680 704.75C688.46 704.42 701.46 703.5 705.75 703.25" fill="none" stroke="#10A5EA" stroke-width="1.23" stroke-dasharray="0 233.43 8.5 2.5 2.5 2.5 8.5 2.5 2.5 2.5 8.5 2.5 2.5 2.5 8.5 2.5 2.5 2.5 8.5 2.5 2.5 2.5 8.5 2.5 2.5 2.5 8.5 2.5 2.5 2.5 8.5 2.5 2.5 2.5 8.5 2.5 2.5 2.5 8.5 2.5 2.5 2.5 8.5 2.5 2.5 2.5 8.5 2.5 2.5 2.5 8.5 2.5 2.5 2.5 8.5 2.5 2.5 2.5 8.5 2.5 2.5 2.5 8.5 2.5 2.5 2.5 8.5 2.5 2.5 2.5 8.5 2.5 2.5 2.5 8.5 2.5 2.5 2.5 4.12 641.55"/>
<path d="M329.3 666.9C329.28 668.75 329.35 674.15 329.2 678C329.05 681.85 328.72 686.47 328.4 690C328.07 693.53 327.44 697.67 327.25 699.2" fill="none" stroke="#000000" stroke-width="1.44"/>
<path d="M325.4 707.3C325.87 709.21 327.63 715.47 328.2 718.75C328.77 722.03 328.25 724.71 328.8 727C329.35 729.29 329.73 728.8 331.5 732.5C333.27 736.2 337.12 745.95 339.4 749.2C341.68 752.45 344.23 751.53 345.2 752" fill="none" stroke="#000000" stroke-width="1.44"/>
<path d="M352.7 758.9C354.97 759.23 364.03 760.57 366.3 760.9" fill="none" stroke="#000000" stroke-width="1.44"/>
<path d="M373 761.4C376.27 761.72 387.27 762.87 392.6 763.3C397.93 763.73 402.93 763.88 405 764" fill="none" stroke="#000000" stroke-width="1.44"/>
<path d="M412.9 764.5C415.29 764.47 421.07 764.27 427.25 764.3C433.43 764.33 446.21 764.63 450 764.7" fill="none" stroke="#000000" stroke-width="1.44"/>
<polygon points="338.75,622.15 342.45,628.65 335.05,628.65" fill="#7020A0"/>
<polygon points="349.25,645.65 352.95,652.15 345.55,652.15" fill="#7020A0"/>
<polygon points="365,677.9 368.7,684.4 361.3,684.4" fill="#7020A0"/>
<polygon points="384.25,706.4 387.95,712.9 380.55,712.9" fill="#7020A0"/>
<polygon points="415,728.9 418.7,735.4 411.3,735.4" fill="#7020A0"/>
<polygon points="447.5,740.65 451.2,747.15 443.8,747.15" fill="#7020A0"/>
<polygon points="481.25,748.4 484.95,754.9 477.55,754.9" fill="#7020A0"/>
<polygon points="517,751.4 520.7,757.9 513.3,757.9" fill="#7020A0"/>
<polygon points="552.5,753.65 556.2,760.15 548.8,760.15" fill="#7020A0"/>
<polygon points="327.1,561.05 333.3,557.35 333.9,557.35 333.9,566.15 327.1,566.15" fill="#0CA046"/>
<polygon points="333.1,597.05 339.3,593.35 339.9,593.35 339.9,602.15 333.1,602.15" fill="#0CA046"/>
<polygon points="343.1,625.55 349.3,621.85 349.9,621.85 349.9,630.65 343.1,630.65" fill="#0CA046"/>
<polygon points="356.6,659.8 362.8,656.1 363.4,656.1 363.4,664.9 356.6,664.9" fill="#0CA046"/>
<polygon points="382.85,684.8 389.05,681.1 389.65,681.1 389.65,689.9 382.85,689.9" fill="#0CA046"/>
<polygon points="420.35,706.8 426.55,703.1 427.15,703.1 427.15,711.9 420.35,711.9" fill="#0CA046"/>
<polygon points="449.6,723.05 455.8,719.35 456.4,719.35 456.4,728.15 449.6,728.15" fill="#0CA046"/>
<polygon points="484.1,736.9 490.3,733.2 490.9,733.2 490.9,742 484.1,742" fill="#0CA046"/>
<polygon points="520.1,746.7 526.3,743 526.9,743 526.9,751.8 520.1,751.8" fill="#0CA046"/>
<polygon points="558.6,753.8 564.8,750.1 565.4,750.1 565.4,758.9 558.6,758.9" fill="#0CA046"/>
<polygon points="598.35,759.55 604.55,755.85 605.15,755.85 605.15,764.65 598.35,764.65" fill="#0CA046"/>
<polygon points="639.6,761.3 645.8,757.6 646.4,757.6 646.4,766.4 639.6,766.4" fill="#0CA046"/>
<polygon points="324,595.65 327.42,598.14 326.12,602.16 321.88,602.16 320.58,598.14" fill="#FBF80A"/>
<polygon points="331.75,628.15 335.17,630.64 333.87,634.66 329.63,634.66 328.33,630.64" fill="#FBF80A"/>
<polygon points="348,653.4 351.42,655.89 350.12,659.91 345.88,659.91 344.58,655.89" fill="#FBF80A"/>
<polygon points="376.5,685.4 379.92,687.89 378.62,691.91 374.38,691.91 373.08,687.89" fill="#FBF80A"/>
<polygon points="403.75,703.9 407.17,706.39 405.87,710.41 401.63,710.41 400.33,706.39" fill="#FBF80A"/>
<polygon points="440,721.4 443.42,723.89 442.12,727.91 437.88,727.91 436.58,723.89" fill="#FBF80A"/>
<polygon points="466.25,733.9 469.67,736.39 468.37,740.41 464.13,740.41 462.83,736.39" fill="#FBF80A"/>
<polygon points="510.75,743.8 514.17,746.29 512.87,750.31 508.63,750.31 507.33,746.29" fill="#FBF80A"/>
<polygon points="560.5,748.65 563.92,751.14 562.62,755.16 558.38,755.16 557.08,751.14" fill="#FBF80A"/>
<polygon points="604.25,749.9 607.67,752.39 606.37,756.41 602.13,756.41 600.83,752.39" fill="#FBF80A"/>
<polygon points="648.75,756.65 652.17,759.14 650.87,763.16 646.63,763.16 645.33,759.14" fill="#FBF80A"/>
<rect x="329.65" y="509.15" width="3.7" height="3.7" fill="#FF0000"/>
<rect x="336.15" y="549.9" width="3.7" height="3.7" fill="#FF0000"/>
<rect x="345.9" y="594.9" width="3.7" height="3.7" fill="#FF0000"/>
<rect x="369.4" y="649.4" width="3.7" height="3.7" fill="#FF0000"/>
<rect x="396.15" y="676.9" width="3.7" height="3.7" fill="#FF0000"/>
<rect x="418.15" y="691.9" width="3.7" height="3.7" fill="#FF0000"/>
<rect x="475.65" y="714.4" width="3.7" height="3.7" fill="#FF0000"/>
<rect x="524.9" y="725.55" width="3.7" height="3.7" fill="#FF0000"/>
<rect x="558.9" y="730.4" width="3.7" height="3.7" fill="#FF0000"/>
<rect x="593.65" y="735.15" width="3.7" height="3.7" fill="#FF0000"/>
<rect x="629.9" y="735.15" width="3.7" height="3.7" fill="#FF0000"/>
<rect x="662.65" y="735.15" width="3.7" height="3.7" fill="#FF0000"/>
<polygon points="322.04,665 326.25,662.19 330.46,665 326.25,667.81" fill="#FF00FF"/>
<polygon points="339.54,699.25 343.75,696.44 347.96,699.25 343.75,702.06" fill="#FF00FF"/>
<polygon points="363.29,723.75 367.5,720.94 371.71,723.75 367.5,726.56" fill="#FF00FF"/>
<polygon points="387.04,734.5 391.25,731.69 395.46,734.5 391.25,737.31" fill="#FF00FF"/>
<polygon points="419.54,745.75 423.75,742.94 427.96,745.75 423.75,748.56" fill="#FF00FF"/>
<polygon points="459.54,752 463.75,749.19 467.96,752 463.75,754.81" fill="#FF00FF"/>
<polygon points="493.04,755.5 497.25,752.69 501.46,755.5 497.25,758.31" fill="#FF00FF"/>
<polygon points="524.54,754.5 528.75,751.69 532.96,754.5 528.75,757.31" fill="#FF00FF"/>
<polygon points="331.05,463.3 333.15,458.7 339.45,458.7 337.35,463.3" fill="#10A5EA"/>
<polygon points="329.8,498.3 331.9,493.7 338.2,493.7 336.1,498.3" fill="#10A5EA"/>
<polygon points="337.3,539.05 339.4,534.45 345.7,534.45 343.6,539.05" fill="#10A5EA"/>
<polygon points="347.55,578.8 349.65,574.2 355.95,574.2 353.85,578.8" fill="#10A5EA"/>
<polygon points="358.8,612.55 360.9,607.95 367.2,607.95 365.1,612.55" fill="#10A5EA"/>
<polygon points="384.55,647.8 386.65,643.2 392.95,643.2 390.85,647.8" fill="#10A5EA"/>
<polygon points="418.3,671.05 420.4,666.45 426.7,666.45 424.6,671.05" fill="#10A5EA"/>
<polygon points="454.55,684.05 456.65,679.45 462.95,679.45 460.85,684.05" fill="#10A5EA"/>
<polygon points="499.55,696.8 501.65,692.2 507.95,692.2 505.85,696.8" fill="#10A5EA"/>
<polygon points="549.3,703.05 551.4,698.45 557.7,698.45 555.6,703.05" fill="#10A5EA"/>
<polygon points="593.8,707.05 595.9,702.45 602.2,702.45 600.1,707.05" fill="#10A5EA"/>
<polygon points="637.8,706.3 639.9,701.7 646.2,701.7 644.1,706.3" fill="#10A5EA"/>
<polygon points="675.05,707.05 677.15,702.45 683.45,702.45 681.35,707.05" fill="#10A5EA"/>
<circle cx="326.6" cy="680" r="4.46" fill="#000000"/>
<circle cx="325.3" cy="707.4" r="4.46" fill="#000000"/>
<circle cx="329" cy="727.2" r="4.46" fill="#000000"/>
<circle cx="345.2" cy="752" r="4.46" fill="#000000"/>
<circle cx="366.3" cy="760.8" r="4.46" fill="#000000"/>
<circle cx="392.5" cy="763.5" r="4.46" fill="#000000"/>
<circle cx="427.4" cy="764" r="4.46" fill="#000000"/>
<circle cx="449.8" cy="764.8" r="4.46" fill="#000000"/>
<g class="n"><text x="333.5" y="586" text-anchor="middle">4</text></g>
<g class="n"><text x="350.5" y="609.75" text-anchor="middle">6</text></g>
<g class="n"><text x="380.9" y="638" text-anchor="middle">7</text></g>
<g class="n"><text x="359" y="720" text-anchor="middle">2</text></g>
<g class="n"><text x="399.6" y="728" text-anchor="middle">3</text></g>
<g class="n"><text x="415.5" y="719.5" text-anchor="middle">5</text></g>
<g class="n"><text x="337.5" y="750.5" text-anchor="middle">1</text></g>
</g>
<g id="legend">
<path d="M767.5 474.3H801" stroke="#000000" stroke-width="1.7" fill="none"/>
<circle cx="781.8" cy="473.9" r="4.6" fill="#000000"/>
<path d="M768.9 499.6H777.7" stroke="#FF00FF" stroke-width="1.7" fill="none"/>
<path d="M788.2 499.6H796.8" stroke="#FF00FF" stroke-width="1.7" fill="none"/>
<polygon points="779.9,498.8 784,496.07 788.1,498.8 784,501.53" fill="#FF00FF"/>
<path d="M768.9 522.1H801.2" stroke="#7020A0" stroke-width="1.35" fill="none" stroke-dasharray="1.7 1.7"/>
<polygon points="782.9,516 786.6,522.5 779.2,522.5" fill="#7020A0"/>
<path d="M768.8 544.5H777.5" stroke="#0CA046" stroke-width="1.5" fill="none"/>
<path d="M784 544.5H790.4" stroke="#0CA046" stroke-width="1.5" fill="none"/>
<path d="M795.8 544.5H801.7" stroke="#0CA046" stroke-width="1.5" fill="none"/>
<polygon points="780.8,543.7 786.5,539.2 787.4,539.2 787.4,546.5 780.8,546.5" fill="#0CA046"/>
<path d="M768.8 566.5H801.7" stroke="#FFFF00" stroke-width="1.6" fill="none"/>
<polygon points="778.9,563.49 782.05,565.78 780.85,569.48 776.95,569.48 775.75,565.78" fill="#FBF80A"/>
<path d="M768.8 588.8H786.5" stroke="#FF0000" stroke-width="1.55" fill="none"/>
<path d="M795.8 588.8H801.7" stroke="#FF0000" stroke-width="1.55" fill="none"/>
<rect x="779.9" y="587.1" width="3.4" height="3.4" fill="#FF0000"/>
<path d="M768.1 609.3H780" stroke="#10A5EA" stroke-width="1.45" fill="none"/>
<path d="M788.2 609.3H792.7" stroke="#10A5EA" stroke-width="1.45" fill="none"/>
<path d="M795.2 609.3H800.8" stroke="#10A5EA" stroke-width="1.45" fill="none"/>
<polygon points="777.6,610.8 779.7,606.2 786,606.2 783.9,610.8" fill="#10A5EA"/>
<text x="817" y="482.5" font-size="15.8">1 CLDP-GD</text>
<text x="818" y="505" font-size="15.8">2 CLDP-D</text>
<text x="817" y="527" font-size="15.8">3 CLDP-G</text>
<text x="817" y="549.5" font-size="15.8">4 MSC</text>
<text x="815.75" y="571.75" font-size="15.8">5 INCP</text>
<text x="817" y="593.75" font-size="15.8">6 LDP-GD</text>
<text x="816" y="614.5" font-size="15.8">7 LBP-GD</text>
</g>
</svg>
</body>
</html>
